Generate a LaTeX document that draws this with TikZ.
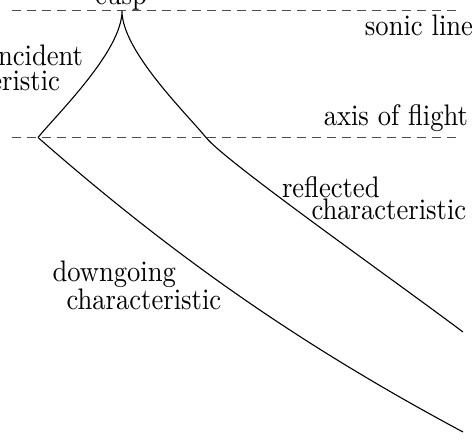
\documentclass[tikz,border=0pt]{standalone}
\usepackage{graphicx}
\newcommand\vstr[1]{\scalebox{2.66}[2.97]{#1}}
\begin{document}
\begin{tikzpicture}[x=1pt,y=-1pt,
  lbl/.style={font=\fontsize{10}{12}\selectfont, inner sep=0pt, outer sep=0pt},
  guide/.style={dash pattern=on 9pt off 6pt, line width=1.2pt, black!70},
  charline/.style={line width=1.1pt, black}]
\useasboundingbox (0,0) rectangle (474,442);
\clip (0,0) rectangle (474,442);
% key points
\coordinate (A) at (38,137.5);
\coordinate (C) at (122,11);
\coordinate (X) at (206,137.5);
\coordinate (R) at (463,332);
\coordinate (D) at (463,432);
\coordinate (S1) at (11.7,10.8);
\coordinate (S2) at (456.7,10.8);
\coordinate (F1) at (11.7,137.5);
\coordinate (F2) at (456.7,137.5);
% dashed guide lines
\draw[guide] (S1) -- (S2);
\draw[guide] (F1) -- (F2);
% characteristics
\draw[charline] (A) .. controls (57.2,113.9) and (122,51) .. (C)
  .. controls (122,51) and (186.8,113.9) .. (X)
  .. controls (226,162) and (391,278) .. (R);
\draw[charline] (A) .. controls (180,262) and (308,349) .. (D);
% labels
\node[lbl, anchor=base] (cusp) at (121,4.3) {\vstr{cusp}};
\node[lbl, anchor=base east] (sonic) at (473,35.3) {\vstr{sonic line}};
\node[lbl, anchor=base east] (axis) at (468,125) {\vstr{axis of flight}};
\node[lbl, anchor=base east] (inc1) at (83,65) {\vstr{incident}};
\node[lbl, anchor=base east] (inc2) at (60,90) {\vstr{characteristic}};
\node[lbl, anchor=base west] (ref1) at (282,197.5) {\vstr{reflected}};
\node[lbl, anchor=base west] (ref2) at (311.5,219) {\vstr{characteristic}};
\node[lbl, anchor=base west] (down1) at (52.5,281) {\vstr{downgoing}};
\node[lbl, anchor=base west] (down2) at (66.5,309) {\vstr{characteristic}};
\end{tikzpicture}
\end{document}
